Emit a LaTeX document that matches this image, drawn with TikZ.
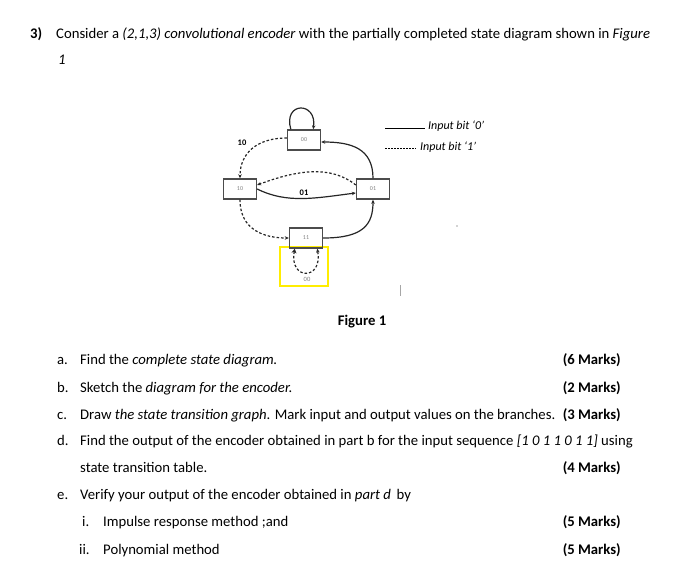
\documentclass[tikz,border=0pt]{standalone}
\usepackage{fontspec}
\setmainfont{Carlito}
\usetikzlibrary{arrows.meta}
\begin{document}
\begin{tikzpicture}[x=1pt,y=-1pt,
  txt/.style={inner sep=0pt,font=\fontsize{14.7}{17}\selectfont},
  st/.style={draw=gray!60!black,line width=1.4pt,minimum width=33pt,minimum height=20pt,inner sep=0pt,
    font=\fontsize{6}{6}\selectfont,text=gray},
  solidE/.style={draw=gray!30!black,line width=1.2pt,-{Stealth[length=4pt,width=3.5pt]}},
  dashE/.style={draw=gray!30!black,line width=1.2pt,dash pattern=on 2.5pt off 2pt,-{Stealth[length=4pt,width=3.5pt]}},
  lbl/.style={inner sep=0pt,font=\fontsize{8.5}{9}\selectfont\bfseries},
  hand/.style={inner sep=0pt,anchor=west,font=\fontsize{12}{13}\selectfont\itshape}]
\useasboundingbox (0,0) rectangle (700,580);
% header
\node[txt,anchor=mid west] (q3) at (30,36) {\textbf{3)}};
\node[txt,anchor=mid west] (q3t) at (56,36) {Consider a \textit{(2,1,3) convolutional encoder} with the partially completed state diagram shown in \textit{Figure}};
\node[txt,anchor=mid west] (q3n) at (58,62) {\textit{1}};
% figure
\node[draw=yellow!95!orange,line width=2.5pt,minimum width=48pt,minimum height=39pt,inner sep=0pt] (hl) at (304,266.5) {};
\node[st] (n00) at (304,140) {00};
\node[st] (n10) at (240,189) {10};
\node[st] (n01) at (373,189) {01};
\node[st] (n11) at (306,238) {11};
\node[inner sep=0pt,font=\fontsize{6.5}{6.5}\selectfont,text=gray] (l00) at (307,279) {00};
\node[lbl] (lb10) at (242,143) {10};
\node[lbl] (lb01) at (304,193) {01};
% edges
\draw[solidE] ([xshift=4pt]n00.north west) .. controls +(-8,-28) and +(4,-28) .. ([xshift=-8pt]n00.north east);
\draw[dashE] ([yshift=2pt]n00.west) .. controls +(-30,0) and +(0,-25) .. (n10.north);
\draw[solidE] (n01.north) .. controls +(0,-30) and +(30,0) .. ([yshift=-2pt]n00.east);
\draw[dashE] ([yshift=4pt]n01.west) .. controls +(-25,-20) and +(40,-15) .. ([yshift=4pt]n10.east);
\draw[solidE] (n10.east) .. controls +(30,15) and +(-40,5) .. ([yshift=-4pt]n01.west);
\draw[dashE] (n10.south) .. controls +(0,30) and +(-25,0) .. (n11.west);
\draw[solidE] (n11.east) .. controls +(40,0) and +(0,25) .. (n01.south);
\draw[dashE,{Stealth[length=4.5pt,width=5pt]}-{Stealth[length=4pt,width=3.5pt]}] ([xshift=6pt]n11.south west) .. controls +(-6,32) and +(6,32) .. ([xshift=-6pt]n11.south east);
% legend
\coordinate (la1) at (385,128); \coordinate (la2) at (425,128);
\draw[line width=0.8pt] (la1) -- (la2);
\node[hand] (lt1) at (428,126) {Input bit `0'};
\coordinate (lb1) at (385,148); \coordinate (lb2) at (416,148);
\draw[line width=0.8pt,dash pattern=on 1.5pt off 1.5pt] (lb1) -- (lb2);
\node[hand] (lt2) at (420,147) {Input bit `1'};
% stray marks
\fill[gray!70] (457,226) circle (0.9pt);
\draw[gray!70,line width=0.9pt] (400,285) -- (400,296);
% caption
\node[txt,font=\fontsize{14.7}{17}\selectfont\bfseries] (cap) at (362,322) {Figure 1};
% questions
\node[txt,anchor=mid west] (ia) at (57,362) {a.};
\node[txt,anchor=mid west] (ta) at (80,362) {Find the \textit{complete state diagram.}};
\node[txt,anchor=mid east] (ma) at (621,362) {\textbf{(6 Marks)}};
\node[txt,anchor=mid west] (ib) at (57,390) {b.};
\node[txt,anchor=mid west] (tb) at (80,390) {Sketch the \textit{diagram for the encoder.}};
\node[txt,anchor=mid east] (mb) at (621,390) {\textbf{(2 Marks)}};
\node[txt,anchor=mid west] (ic) at (57,417) {c.};
\node[txt,anchor=mid west] (tc) at (80,417) {Draw \textit{the state transition graph}. Mark input and output values on the branches.};
\node[txt,anchor=mid east] (mc) at (621,417) {\textbf{(3 Marks)}};
\node[txt,anchor=mid west] (id) at (57,443) {d.};
\node[txt,anchor=mid west] (td) at (80,443) {Find the output of the encoder obtained in part b for the input sequence \textit{[1 0 1 1 0 1 1]} using};
\node[txt,anchor=mid west] (td2) at (80,470) {state transition table.};
\node[txt,anchor=mid east] (md) at (621,470) {\textbf{(4 Marks)}};
\node[txt,anchor=mid west] (ie) at (57,497) {e.};
\node[txt,anchor=mid west] (te) at (80,497) {Verify your output of the encoder obtained in \textit{part d}\, by};
\node[txt,anchor=mid west] (ii1) at (82,524) {i.};
\node[txt,anchor=mid west] (ti1) at (103,524) {Impulse response method ;and};
\node[txt,anchor=mid east] (mi1) at (621,524) {\textbf{(5 Marks)}};
\node[txt,anchor=mid west] (ii2) at (79,552) {ii.};
\node[txt,anchor=mid west] (ti2) at (103,552) {Polynomial method};
\node[txt,anchor=mid east] (mi2) at (621,552) {\textbf{(5 Marks)}};
\end{tikzpicture}
\end{document}
